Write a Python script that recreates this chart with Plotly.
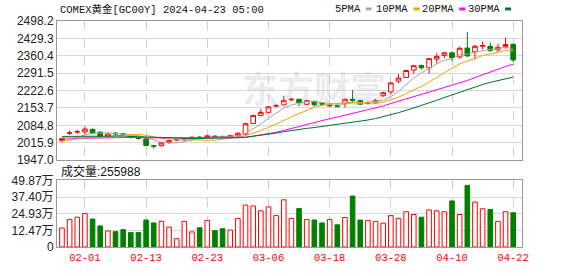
import plotly.graph_objects as go
import numpy as np

# ---------------- data ----------------
dates = ["01-29", "01-30", "01-31",
         "02-01", "02-02", "02-05", "02-06", "02-07", "02-08", "02-09", "02-12", "02-13", "02-14",
         "02-15", "02-16", "02-19", "02-20", "02-21", "02-22", "02-23", "02-26", "02-27", "02-28", "02-29",
         "03-01", "03-04", "03-05", "03-06", "03-07", "03-08", "03-11", "03-12", "03-13", "03-14", "03-15",
         "03-18", "03-19", "03-20", "03-21", "03-22", "03-25", "03-26", "03-27", "03-28",
         "04-01", "04-02", "04-03", "04-04", "04-05", "04-08", "04-09", "04-10", "04-11", "04-12",
         "04-15", "04-16", "04-17", "04-18", "04-19", "04-22"]

open_ = [2024, 2053, 2058, 2059, 2069, 2058, 2041, 2054, 2051, 2041,
         2036, 2031, 2004, 2004, 2016, 2026, 2027, 2034, 2038, 2036,
         2042, 2041, 2038, 2043, 2050, 2092, 2124, 2136, 2161, 2166,
         2186, 2188, 2168, 2180, 2171, 2162, 2162, 2170, 2188, 2183,
         2172, 2173, 2202, 2217, 2260, 2274, 2304, 2322, 2313, 2347,
         2362, 2372, 2356, 2391, 2376, 2398, 2398, 2384, 2397, 2406]
high = [2034, 2064, 2068, 2081, 2071, 2060, 2056, 2058, 2054, 2046,
        2040, 2035, 2007, 2018, 2027, 2032, 2036, 2041, 2043, 2047,
        2045, 2043, 2048, 2058, 2095, 2127, 2150, 2161, 2170, 2202,
        2194, 2190, 2186, 2182, 2176, 2170, 2166, 2192, 2225, 2187,
        2180, 2190, 2218, 2256, 2288, 2304, 2323, 2325, 2352, 2372,
        2376, 2378, 2397, 2454, 2404, 2417, 2413, 2409, 2432, 2408]
low = [2017, 2046, 2050, 2049, 2050, 2036, 2036, 2046, 2043, 2032,
       2028, 2002, 1992, 2001, 2011, 2024, 2024, 2031, 2030, 2033,
       2035, 2034, 2036, 2040, 2047, 2090, 2120, 2134, 2155, 2162,
       2180, 2160, 2164, 2160, 2162, 2158, 2155, 2155, 2174, 2164,
       2168, 2170, 2198, 2208, 2251, 2272, 2289, 2306, 2289, 2330,
       2351, 2339, 2348, 2355, 2345, 2385, 2375, 2376, 2388, 2336]
close = [2032, 2055, 2060, 2070, 2053, 2040, 2050, 2051, 2049, 2038,
         2033, 2005, 2002, 2015, 2024, 2029, 2032, 2037, 2035, 2043,
         2040, 2039, 2044, 2053, 2091, 2124, 2136, 2158, 2163, 2183,
         2188, 2174, 2183, 2166, 2169, 2164, 2160, 2188, 2184, 2168,
         2174, 2183, 2214, 2253, 2272, 2302, 2321, 2313, 2349, 2358,
         2372, 2353, 2390, 2360, 2398, 2401, 2382, 2394, 2405, 2344]
# closes of the 29 sessions before the window (estimated from the MA start levels)
prior_close = [2044, 2034, 2035, 2047, 2043, 2051, 2069, 2067, 2083, 2065,
               2071, 2073, 2043, 2050, 2050, 2033, 2035, 2027, 2029, 2051,
               2030, 2006, 2023, 2029, 2022, 2029, 2017, 2018, 2018]
volume_wan = [14.2, 20.7, 22.3, 25.0, 20.9, 15.8, 12.0, 11.5, 13.0, 10.8,
              10.8, 20.2, 18.0, 19.2, 14.9, 6.2, 19.2, 11.3, 14.4, 19.9,
              12.2, 13.7, 12.7, 21.4, 31.4, 30.7, 27.1, 30.0, 23.5, 35.3,
              21.4, 28.8, 20.6, 20.2, 18.0, 20.6, 16.6, 22.1, 38.1, 20.2,
              19.9, 19.2, 17.8, 23.5, 21.4, 26.4, 24.3, 22.3, 27.8, 27.1,
              26.4, 34.5, 24.3, 46.1, 33.6, 28.6, 28.1, 19.2, 26.4, 25.6]
ma_periods = [5, 10, 20, 30]
ma_names = ["5PMA", "10PMA", "20PMA", "30PMA"]
ma_colors = ["#a6a6a6", "#f0a30a", "#ff00ff", "#00702f"]
price_ticks = [1947.0, 2015.9, 2084.8, 2153.7, 2222.6, 2291.5, 2360.4, 2429.3, 2498.2]
vol_ticks = [0, 12.47, 24.93, 37.40, 49.87]
vol_tick_text = ["0", "12.47万", "24.93万", "37.40万", "49.87万"]
tick_idx = [3, 11, 19, 27, 35, 43, 51, 59]
tick_labels = [dates[i] for i in tick_idx]
title_text = "COMEX黄金[GC00Y] 2024-04-23 05:00"
vol_title = "成交量:255988"

# ---------------- layout helpers ----------------
W, H = 578, 276
L, R, T, B = 55, 56, 21, 21
PW, PH = W - L - R, H - T - B

def px(xp):
    return (xp - L) / PW

def py(yp):
    return (H - B - yp) / PH

x = list(range(len(dates)))
RED, GREEN = "#ff0000", "#008000"

all_close = np.array(prior_close + close, dtype=float)
n_prior = len(prior_close)

fig = go.Figure()

fig.add_trace(go.Candlestick(
    x=x, open=open_, high=high, low=low, close=close,
    increasing=dict(line=dict(color=RED, width=1), fillcolor="white"),
    decreasing=dict(line=dict(color=GREEN, width=1), fillcolor=GREEN),
    whiskerwidth=0, xaxis="x", yaxis="y", showlegend=False, hoverinfo="skip"))

for p, name, col in zip(ma_periods, ma_names, ma_colors):
    ma = [all_close[n_prior + i - p + 1: n_prior + i + 1].mean() for i in x]
    fig.add_trace(go.Scatter(x=x, y=ma, mode="lines", line=dict(color=col, width=1),
                             xaxis="x", yaxis="y", showlegend=False, hoverinfo="skip"))

up = [c >= o for o, c in zip(open_, close)]
fig.add_trace(go.Bar(
    x=x, y=volume_wan, width=0.6,
    marker=dict(color=["white" if u else GREEN for u in up],
                line=dict(color=[RED if u else GREEN for u in up], width=1)),
    xaxis="x2", yaxis="y2", showlegend=False, hoverinfo="skip"))

xr = [-0.65, 60.15]
axis_common = dict(showline=True, mirror=True, linecolor="#9a9a9a", linewidth=1, zeroline=False)
tick_font = dict(family="Liberation Sans, Arial, sans-serif", size=12, color="#222")

shapes = []
for name, col, xs in zip(ma_names, ma_colors, [365, 413, 459, 505]):
    shapes.append(dict(type="rect", xref="paper", yref="paper",
                       x0=px(xs), x1=px(xs + 6), y0=py(10), y1=py(7),
                       fillcolor=col, line=dict(width=0)))

annotations = [
    dict(text=title_text, xref="paper", yref="paper", x=px(56), y=py(9),
         xanchor="left", yanchor="middle", showarrow=False,
         font=dict(family="Liberation Mono, Noto Sans CJK SC, monospace", size=10.5, color="#111")),
    dict(text=vol_title, xref="paper", yref="paper", x=px(57), y=py(177),
         xanchor="left", yanchor="middle", showarrow=False,
         font=dict(family="Liberation Sans, Noto Sans CJK SC, sans-serif", size=12, color="#111")),
    dict(text="东方财富", xref="paper", yref="paper", x=px(313), y=py(89),
         xanchor="center", yanchor="middle", showarrow=False,
         font=dict(family="Noto Sans CJK SC", size=36, color="rgba(190,190,190,0.28)", weight="bold")),
]
for name, xe in zip(ma_names, [362.5, 410, 456, 501.5]):
    annotations.append(dict(text=name, xref="paper", yref="paper", x=px(xe), y=py(9),
                            xanchor="right", yanchor="middle", showarrow=False,
                            font=dict(family="Liberation Mono, monospace", size=10.5, color="#111")))

fig.update_layout(
    width=W, height=H, margin=dict(l=L, r=R, t=T, b=B, pad=0),
    paper_bgcolor="white", plot_bgcolor="white",
    xaxis=dict(domain=[0, 1], range=xr, anchor="y", tickvals=tick_idx, showticklabels=False,
               showgrid=True, gridcolor="#cfcfcf", griddash="dash", gridwidth=1,
               rangeslider=dict(visible=False), ticks="", **axis_common),
    yaxis=dict(domain=[py(165), 1], range=[price_ticks[0], price_ticks[-1]], anchor="x",
               tickvals=price_ticks, ticktext=["%.1f" % v for v in price_ticks],
               showgrid=True, gridcolor="#d8d8d8", gridwidth=1, ticks="", tickfont=tick_font,
               **axis_common),
    xaxis2=dict(domain=[0, 1], range=xr, anchor="y2", tickvals=tick_idx, ticktext=tick_labels,
                showgrid=True, gridcolor="#cfcfcf", griddash="dash", gridwidth=1, ticks="",
                tickfont=dict(family="Liberation Mono, monospace", size=10.5, color=RED),
                **axis_common),
    yaxis2=dict(domain=[0, py(186)], range=[0, vol_ticks[-1]], anchor="x2",
                tickvals=vol_ticks, ticktext=vol_tick_text,
                showgrid=True, gridcolor="#d8d8d8", gridwidth=1, ticks="",
                tickfont=dict(family="Liberation Sans, Noto Sans CJK SC, sans-serif", size=12, color="#222"),
                **axis_common),
    boxgap=0.22, boxgroupgap=0.22,
    shapes=shapes, annotations=annotations, showlegend=False,
)

fig.write_html("out.html")
